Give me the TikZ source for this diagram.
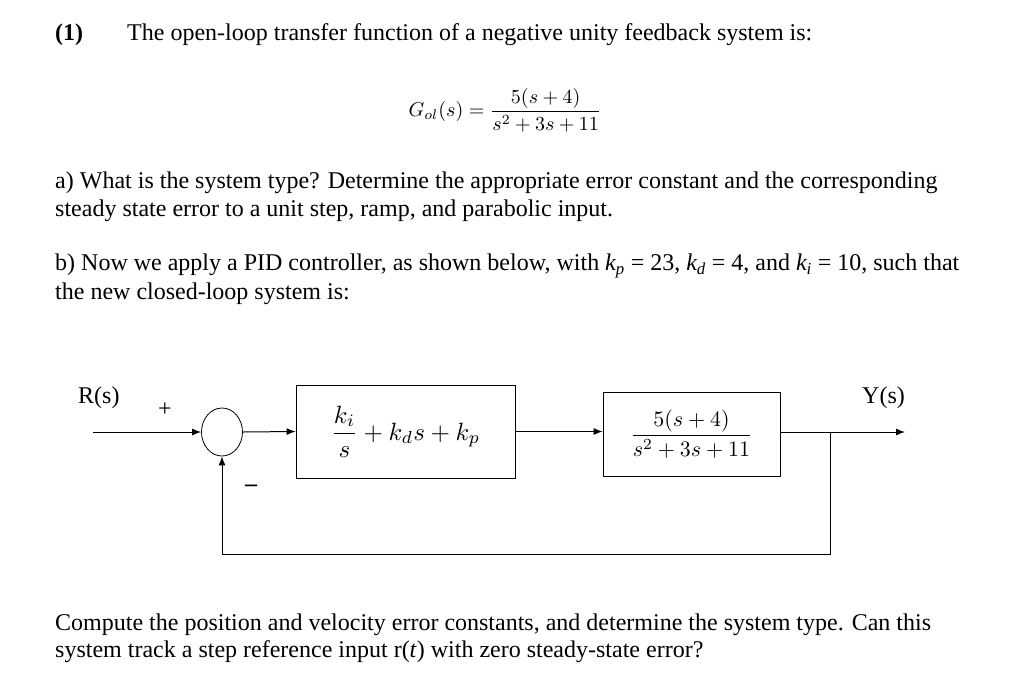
\documentclass[tikz,border=0pt]{standalone}
\usepackage{amsmath}
\usepackage{graphicx}
\usepackage{fontspec}
\setmainfont{Liberation Serif}
\usetikzlibrary{arrows.meta,shapes.geometric}
\begin{document}
\begin{tikzpicture}[x=1pt,y=-1pt,
  txt/.style={anchor=west,inner sep=0pt,font=\fontsize{24}{28}\selectfont},
  blk/.style={draw,line width=0.8pt,inner sep=0pt},
  sig/.style={line width=1pt,-{Latex[length=9pt,width=7pt]}},
  lin/.style={line width=1pt}]
\useasboundingbox (0,0) rectangle (1024,683);
\node[txt] (n1) at (55,35) {\textbf{(1)}};
\node[txt] (t1) at (127,35) {The open-loop transfer function of a negative unity feedback system is:};
\node[inner sep=0pt] (g) at (505,110) {\scalebox{2}{$G_{ol}(s)=\dfrac{5(s+4)}{s^2+3s+11}$}};
\node[txt] (a1) at (55,183) {a) What is the system type? Determine the appropriate error constant and the corresponding};
\node[txt] (a2) at (55,211) {steady state error to a unit step, ramp, and parabolic input.};
\node[txt] (b1) at (55,266) {b) Now we apply a PID controller, as shown below, with \textit{k\textsubscript{p}} = 23, \textit{k\textsubscript{d}} = 4, and \textit{k\textsubscript{i}} = 10, such that};
\node[txt] (b2) at (55,294) {the new closed-loop system is:};
\node[txt] (c1) at (55,625) {Compute the position and velocity error constants, and determine the system type. Can this};
\node[txt] (c2) at (55,652) {system track a step reference input r(\textit{t}) with zero steady-state error?};
% diagram
\coordinate (in) at (93,432);
\node[draw,line width=0.8pt,ellipse,minimum width=41pt,minimum height=48pt,inner sep=0pt] (sum) at (222,432) {};
\node[blk,minimum width=219pt,minimum height=93pt] (pid) at (405.5,431.5) {\scalebox{2.5}{$\dfrac{k_i}{s}+k_d s+k_p$}};
\node[blk,minimum width=177pt,minimum height=84pt] (pl) at (691.5,434) {\scalebox{2.2}{$\dfrac{5(s+4)}{s^2+3s+11}$}};
\coordinate (out) at (905,432);
\coordinate (br) at (830,432);
\coordinate (bd) at (830,554);
\node[txt] (R) at (78,398) {R(s)};
\node[txt] (Y) at (862,398) {Y(s)};
\node[txt] (pl1) at (158,410) {+};
\node[txt] (mi) at (245,488) {\textbf{--}};
\draw[sig] (in) -- (sum.west);
\draw[sig] (sum.east) -- (pid.west);
\draw[sig] (pid.east) -- (pl.west|-pid.east);
\draw[sig] (pl.east|-out) -- (out);
\draw[sig] (br) -- (bd) -- (sum.south|-bd) -- (sum.south);
\end{tikzpicture}
\end{document}
